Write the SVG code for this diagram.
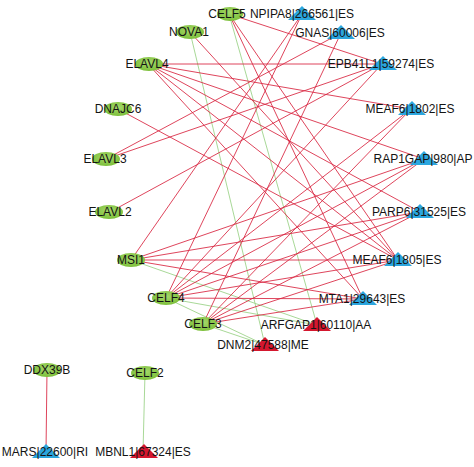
<svg xmlns="http://www.w3.org/2000/svg" width="474" height="467" viewBox="0 0 474 467">
<defs>
<radialGradient id="gg" cx="50%" cy="40%" r="60%">
<stop offset="0" stop-color="#a6d86a"/>
<stop offset="1" stop-color="#7cbf3a"/>
</radialGradient>
<style>
.r{stroke:#d8243f;stroke-width:1;stroke-opacity:0.85;fill:none}
.g{stroke:#9fd48c;stroke-width:1;stroke-opacity:0.9;fill:none}
.e{fill:url(#gg)}
.b{fill:#2ba6de}
.t{fill:#d4172e}
text{font-family:"Liberation Sans",Arial,sans-serif;font-size:12px;fill:#141414;text-anchor:middle}
</style>
</defs>
<rect width="474" height="467" fill="#fff"/>
<g id="edges">
<line class="g" x1="229" y1="14" x2="317" y2="325"/>
<line class="g" x1="190" y1="32" x2="265" y2="345"/>
<line class="g" x1="131" y1="260" x2="317" y2="325"/>
<line class="g" x1="166" y1="298" x2="317" y2="325"/>
<line class="g" x1="166" y1="298" x2="265" y2="345"/>
<line class="g" x1="203" y1="324" x2="265" y2="345"/>
<line class="g" x1="145" y1="373" x2="143" y2="452"/>
<line class="r" x1="47" y1="370" x2="46" y2="452"/>
<line class="r" x1="229" y1="14" x2="382" y2="64"/>
<line class="r" x1="229" y1="14" x2="398" y2="260"/>
<line class="r" x1="229" y1="14" x2="363" y2="299"/>
<line class="r" x1="190" y1="32" x2="398" y2="260"/>
<line class="r" x1="148" y1="64" x2="382" y2="64"/>
<line class="r" x1="148" y1="64" x2="411" y2="109"/>
<line class="r" x1="148" y1="64" x2="424" y2="159"/>
<line class="r" x1="148" y1="64" x2="420" y2="212"/>
<line class="r" x1="148" y1="64" x2="398" y2="260"/>
<line class="r" x1="148" y1="64" x2="363" y2="299"/>
<line class="r" x1="118" y1="109" x2="398" y2="260"/>
<line class="r" x1="106" y1="159" x2="341" y2="33"/>
<line class="r" x1="106" y1="159" x2="382" y2="64"/>
<line class="r" x1="110" y1="212" x2="382" y2="64"/>
<line class="r" x1="131" y1="260" x2="302" y2="14"/>
<line class="r" x1="131" y1="260" x2="424" y2="159"/>
<line class="r" x1="131" y1="260" x2="420" y2="212"/>
<line class="r" x1="131" y1="260" x2="398" y2="260"/>
<line class="r" x1="131" y1="260" x2="363" y2="299"/>
<line class="r" x1="166" y1="298" x2="302" y2="14"/>
<line class="r" x1="166" y1="298" x2="382" y2="64"/>
<line class="r" x1="166" y1="298" x2="411" y2="109"/>
<line class="r" x1="166" y1="298" x2="424" y2="159"/>
<line class="r" x1="166" y1="298" x2="420" y2="212"/>
<line class="r" x1="166" y1="298" x2="398" y2="260"/>
<line class="r" x1="166" y1="298" x2="363" y2="299"/>
<line class="r" x1="203" y1="324" x2="341" y2="33"/>
<line class="r" x1="203" y1="324" x2="411" y2="109"/>
<line class="r" x1="203" y1="324" x2="424" y2="159"/>
<line class="r" x1="203" y1="324" x2="420" y2="212"/>
<line class="r" x1="203" y1="324" x2="398" y2="260"/>
<line class="r" x1="203" y1="324" x2="363" y2="299"/>
</g>
<g id="CELF5"><ellipse class="e" cx="230" cy="14" rx="13" ry="7"/><text x="227" y="18">CELF5</text></g>
<g id="NOVA1"><ellipse class="e" cx="190" cy="32" rx="14" ry="7"/><text x="189" y="36">NOVA1</text></g>
<g id="ELAVL4"><ellipse class="e" cx="149" cy="64" rx="14" ry="7"/><text x="147" y="68">ELAVL4</text></g>
<g id="DNAJC6"><ellipse class="e" cx="118" cy="109" rx="14" ry="7"/><text x="118" y="113">DNAJC6</text></g>
<g id="ELAVL3"><ellipse class="e" cx="106" cy="159" rx="14" ry="7"/><text x="105" y="163">ELAVL3</text></g>
<g id="ELAVL2"><ellipse class="e" cx="109" cy="212" rx="14" ry="7"/><text x="110" y="216">ELAVL2</text></g>
<g id="MSI1"><ellipse class="e" cx="131" cy="260" rx="14" ry="7"/><text x="131" y="264">MSI1</text></g>
<g id="CELF4"><ellipse class="e" cx="166" cy="298" rx="14" ry="7"/><text x="166" y="302">CELF4</text></g>
<g id="CELF3"><ellipse class="e" cx="203" cy="324" rx="14" ry="7"/><text x="203" y="328">CELF3</text></g>
<g id="DDX39B"><ellipse class="e" cx="47" cy="370" rx="14" ry="7"/><text x="47" y="374">DDX39B</text></g>
<g id="CELF2"><ellipse class="e" cx="145" cy="373" rx="14" ry="7"/><text x="145" y="377">CELF2</text></g>
<g id="NPIPA8"><polygon class="b" points="302,6 288,20 316,20"/><text x="302" y="18">NPIPA8|266561|ES</text></g>
<g id="GNAS"><polygon class="b" points="341,25 327,39 355,39"/><text x="340" y="37">GNAS|60006|ES</text></g>
<g id="EPB41L1"><polygon class="b" points="383,56 369,70 397,70"/><text x="381" y="68">EPB41L1|59274|ES</text></g>
<g id="MEAF6_1802"><polygon class="b" points="412,101 398,115 426,115"/><text x="410" y="113">MEAF6|1802|ES</text></g>
<g id="RAP1GAP"><polygon class="b" points="424,151 410,165 438,165"/><text x="423" y="163">RAP1GAP|980|AP</text></g>
<g id="PARP6"><polygon class="b" points="420,204 406,218 434,218"/><text x="419" y="216">PARP6|31525|ES</text></g>
<g id="MEAF6_1805"><polygon class="b" points="398,252 384,266 412,266"/><text x="397" y="264">MEAF6|1805|ES</text></g>
<g id="MTA1"><polygon class="b" points="363,291 349,305 377,305"/><text x="362" y="303">MTA1|29643|ES</text></g>
<g id="ARFGAP1"><polygon class="t" points="317,317 303,331 331,331"/><text x="316" y="329">ARFGAP1|60110|AA</text></g>
<g id="DNM2"><polygon class="t" points="265,337 251,351 279,351"/><text x="263" y="349">DNM2|47588|ME</text></g>
<g id="MARS"><polygon class="b" points="46,444 32,458 60,458"/><text x="45" y="456">MARS|22600|RI</text></g>
<g id="MBNL1"><polygon class="t" points="144,444 130,458 158,458"/><text x="143" y="456">MBNL1|67324|ES</text></g>
</svg>
